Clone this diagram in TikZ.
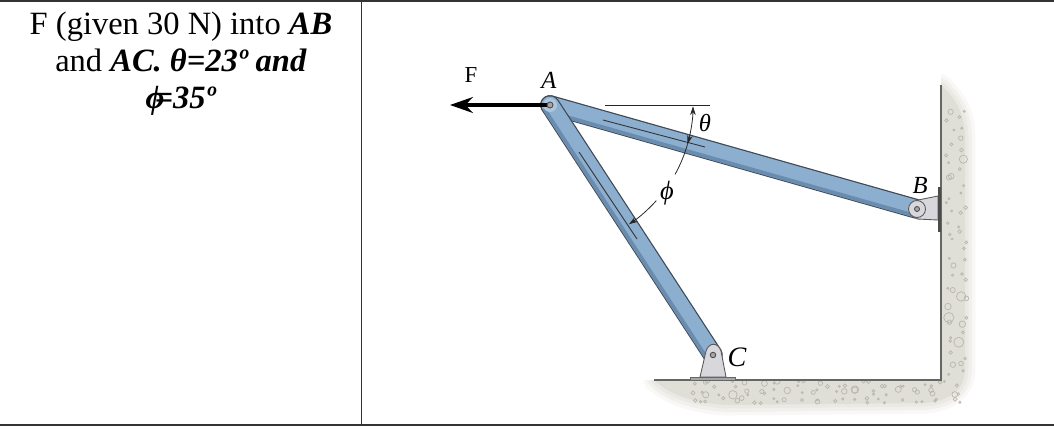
\documentclass[tikz,border=0pt]{standalone}
\usepackage{fontspec}
\setmainfont{Liberation Serif}
\usetikzlibrary{arrows.meta}

\definecolor{memberblue}{HTML}{8CAFD0}
\definecolor{membershade}{HTML}{6A8CAE}
\definecolor{memberedge}{HTML}{3F4954}
\definecolor{bracketgray}{HTML}{D8D8DC}
\definecolor{concrete}{HTML}{DFDED7}
\definecolor{pebble}{HTML}{B9B7AB}
\definecolor{walledge}{HTML}{666663}

\tikzset{
  rule/.style = {line width = 1pt, color = black!80},
  member/.style = {line width = 11.2pt, color = memberedge},
  memberfill/.style = {line width = 9.8pt, color = memberblue},
  membershadow/.style = {line width = 2.2pt, color = membershade},
  groove/.style = {line width = 0.5pt, color = black!80},
  bracket/.style = {draw = black!65, fill = bracketgray, line width = 0.5pt},
  pin/.style = {draw = black!70, fill = black!35, line width = 0.5pt},
  angleline/.style = {line width = 0.45pt, color = black!85},
  angletip/.style = {-{Stealth[length = 5pt, width = 3.2pt]}},
  label/.style = {font = \fontsize{14}{16}\selectfont\itshape, inner sep = 0pt}
}

\begin{document}
\begin{tikzpicture}
  \useasboundingbox (0, 0) rectangle (21.08, 8.56);

  \coordinate (A) at (11.00, 6.46);
  \coordinate (B) at (18.34, 4.38);
  \coordinate (C) at (14.26, 1.46);
  \coordinate (Ftip) at (9.00, 6.46);

  % concrete
  \foreach \w/\o in {12/0.2, 8/0.3, 4/0.4} {
    \draw [concrete, line width = \w pt, opacity = \o, line join = round]
      (18.82, 6.86) .. controls (19.1, 6.6) and (19.3, 6.3) .. (19.3, 5.8)
      -- (19.3, 1.2) .. controls (19.3, 0.75) and (19.0, 0.55) .. (18.5, 0.5)
      -- (14.5, 0.46) .. controls (13.9, 0.5) and (13.4, 0.65) .. (13.08, 0.96)
      -- (18.82, 0.96) -- cycle;
  }
  \fill [concrete]
    (18.82, 6.86) .. controls (19.1, 6.6) and (19.3, 6.3) .. (19.3, 5.8)
    -- (19.3, 1.2) .. controls (19.3, 0.75) and (19.0, 0.55) .. (18.5, 0.5)
    -- (14.5, 0.46) .. controls (13.9, 0.5) and (13.4, 0.65) .. (13.08, 0.96)
    -- (18.82, 0.96) -- cycle;
  \pgfmathsetseed{11}
  \foreach \gy in {0.55, 0.72, 0.88} {
    \foreach \gx in {13.8, 14.0, ..., 19.2} {
      \pgfmathsetmacro{\px}{\gx + 0.16 * rand}
      \pgfmathsetmacro{\py}{\gy + 0.06 * rand}
      \pgfmathsetmacro{\pr}{0.02 + 0.07 * rnd * rnd}
      \draw [pebble, line width = 0.4pt] (\px, \py) circle (\pr);
    }
  }
  \foreach \gy in {1.1, 1.3, ..., 6.3} {
    \foreach \gx in {19.0, 19.25} {
      \pgfmathsetmacro{\px}{\gx + 0.08 * rand}
      \pgfmathsetmacro{\py}{\gy + 0.12 * rand}
      \pgfmathsetmacro{\pr}{0.02 + 0.09 * rnd * rnd}
      \draw [pebble, line width = 0.4pt] (\px, \py) circle (\pr);
    }
  }
  \fill [white] (7.3, 0.96) rectangle (18.82, 8.5);
  \draw [walledge, line width = 1.1pt] (13.08, 0.96) -- (18.82, 0.96) -- (18.82, 6.86);

  % table rules
  \draw [rule] (0, 8.54) -- (21.08, 8.54);
  \draw [rule] (0, 0.06) -- (21.08, 0.06);
  \draw [rule] (7.23, 8.54) -- (7.23, 0.06);
  \node (question) [anchor = north, align = center, inner sep = 0pt,
    font = \fontsize{18.5}{20.9}\selectfont] at (3.62, 8.32)
    {F (given 30 N) into \textbf{\textit{AB}}\\
     and \textbf{\textit{AC. θ=23º and}}\\
     \textbf{\textit{ϕ\kern-0.3em=35º}}};

  % member AB
  \draw [member, line cap = round] (A) -- (B);
  \draw [memberfill] (A) -- (B);
  \draw [membershadow] ([shift = {(-0.038, -0.135)}]A) -- ([shift = {(-0.038, -0.135)}]B);
  \draw [groove] (12.06, 6.16) -- (14.10, 5.62);

  % member AC
  \draw [member, line cap = round] (A) -- (C);
  \draw [memberfill, line cap = round] (A) -- (C);
  \draw [membershadow] ([shift = {(-0.117, -0.076)}]A) -- ([shift = {(-0.117, -0.076)}]C);
  \draw [groove] (11.58, 5.52) -- (12.74, 3.78);
  \fill [memberblue!70!white] (A) circle (0.14);

  % brackets
  \draw [bracket, line join = round] (18.36, 4.56) -- (18.76, 4.64) -- (18.76, 4.16) -- (18.34, 4.18) -- cycle;
  \fill [black!70] (18.76, 3.92) rectangle (18.82, 4.82);
  \draw [bracket] (B) circle (0.17);
  \draw [pin] (B) circle (0.05);

  \draw [bracket, line join = round] (14.00, 1.02) -- (14.12, 1.54)
    .. controls (14.18, 1.72) and (14.36, 1.72) .. (14.42, 1.54) -- (14.52, 1.02) -- cycle;
  \draw [black!60, fill = black!35, line width = 0.4pt] (13.80, 0.96) rectangle (14.70, 1.02);
  \draw [pin] (C) circle (0.055);

  % force
  \draw [line width = 1.8pt, -{Stealth[length = 13pt, width = 9pt]}] (A) -- (Ftip);
  \draw [pin] (A) circle (0.06);

  % angles
  \draw [angleline] (12.10, 6.46) -- (14.20, 6.46);
  \draw [angleline, angletip] ([shift = {(-16:2.86)}]A) arc (-16:-0.5:2.86);
  \draw [angleline, angletip] ([shift = {(-12:2.86)}]A) arc (-12:-15.8:2.86);
  \draw [angleline] ([shift = {(-16:2.86)}]A) arc (-16:-29:2.86);
  \draw [angleline, angletip] ([shift = {(-42:2.86)}]A) arc (-42:-56.5:2.86);

  \node (Flabel) [label, font = \fontsize{13}{15}\selectfont\upshape] at (9.42, 7.05) {F};
  \node (Alabel) [label] at (10.98, 6.96) {A};
  \node (Blabel) [label] at (18.40, 4.86) {B};
  \node (Clabel) [label, font = \fontsize{16}{18}\selectfont\itshape] at (14.74, 1.42) {C};
  \node (thetalabel) [label] at (14.10, 6.10) {θ};
  \node (philabel) [label, font = \fontsize{15}{17}\selectfont\itshape] at (13.34, 4.70) {ϕ};
\end{tikzpicture}
\end{document}
